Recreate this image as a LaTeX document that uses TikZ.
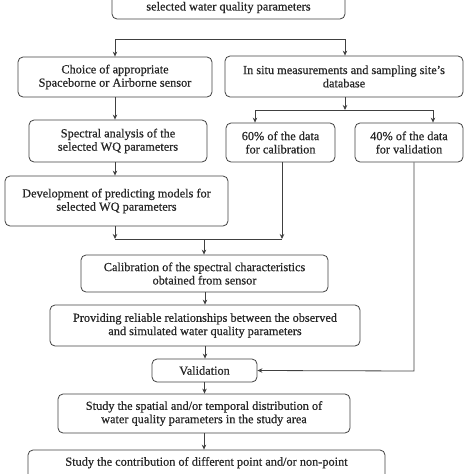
\documentclass[tikz,border=0pt]{standalone}
\usepackage{fontspec}
\setmainfont{Liberation Serif}
\newfontfamily\boxfont[FakeBold=0.6,Ligatures=TeX]{Liberation Serif}
\usetikzlibrary{arrows.meta}
\tikzset{
  box/.style={draw=black!75, line width=0.8pt, rounded corners=5pt, align=center,
    inner sep=0pt, font=\boxfont\fontsize{12.3}{13.3}\selectfont, text=black!85},
  conn/.style={draw=black!75, line width=0.8pt},
  arr/.style={conn, -{Stealth[length=5pt,width=4.5pt]}}
}
\begin{document}
\begin{tikzpicture}[x=1pt,y=-1pt]
\useasboundingbox (0,0) rectangle (474,474);
\clip (0,0) rectangle (474,474);
% boxes
\node[box, minimum width=233pt, minimum height=37pt] (top) at (228.5,0.5) {\strut\\selected water quality parameters};
\node[box, minimum width=194pt, minimum height=40pt] (choice) at (115,77) {Choice of appropriate\\Spaceborne or Airborne sensor};
\node[box, minimum width=238pt, minimum height=41pt] (insitu) at (344,76.5) {In situ measurements and sampling site’s\\database};
\node[box, minimum width=178pt, minimum height=42pt] (spectral) at (118,141) {Spectral analysis of the\\selected WQ parameters};
\node[box, minimum width=109pt, minimum height=39pt] (cal60) at (280.5,142.5) {60\% of the data\\for calibration};
\node[box, minimum width=108pt, minimum height=39pt] (val40) at (409,142.5) {40\% of the data\\for validation};
\node[box, minimum width=223pt, minimum height=50pt] (devel) at (116.5,201) {Development of predicting models for\\selected WQ parameters};
\node[box, minimum width=247pt, minimum height=37pt] (calib) at (204.5,273.5) {Calibration of the spectral characteristics\\obtained from sensor};
\node[box, minimum width=310pt, minimum height=41pt] (provide) at (205,325.5) {Providing reliable relationships between the observed\\and simulated water quality parameters};
\node[box, minimum width=105pt, minimum height=23pt] (valid) at (204.5,370.5) {Validation};
\node[box, minimum width=292pt, minimum height=39pt] (spatial) at (204,413.5) {Study the spatial and/or temporal distribution of\\water quality parameters in the study area};
\node[box, minimum width=357pt, minimum height=40pt] (contrib) at (206.5,470) {Study the contribution of different point and/or non-point\\\strut};
% junction coordinates
\coordinate (s1l) at (115,39);
\coordinate (s1r) at (345,39);
\coordinate (s2c) at (345,110);
\coordinate (s2l) at (255,110);
\coordinate (s2r) at (433,110);
\coordinate (j1l) at (115,239);
\coordinate (j1r) at (282,239);
\coordinate (j1c) at (204,239);
\coordinate (v40) at (414,371);
% connectors
\draw[conn] (s1l) -- (s1r);
\draw[arr] (s1l) -- (s1l |- choice.north);
\draw[arr] (s1r) -- (s1r |- insitu.north);
\draw[arr] (choice.south) -- (choice.south |- spectral.north);
\draw[arr] (s2c |- insitu.south) -- (s2c);
\draw[conn] (s2l) -- (s2r);
\draw[arr] (s2l) -- (s2l |- cal60.north);
\draw[arr] (s2r) -- (s2r |- val40.north);
\draw[arr] (s1l |- spectral.south) -- (s1l |- devel.north);
\draw[arr] (s1l |- devel.south) -- (j1l);
\draw[arr] (j1r |- cal60.south) -- (j1r);
\draw[conn] (j1l) -- (j1r);
\draw[arr] (j1c) -- (j1c |- calib.north);
\draw[arr] (calib.south -| provide.north) -- (provide.north);
\draw[arr] (provide.south) -- (provide.south |- valid.north);
\draw[arr] (valid.south) -- (valid.south |- spatial.north);
\draw[arr] (spatial.south) -- (spatial.south |- contrib.north);
\draw[arr] (v40 |- val40.south) -- (v40) -- (valid.east);
\end{tikzpicture}
\end{document}
